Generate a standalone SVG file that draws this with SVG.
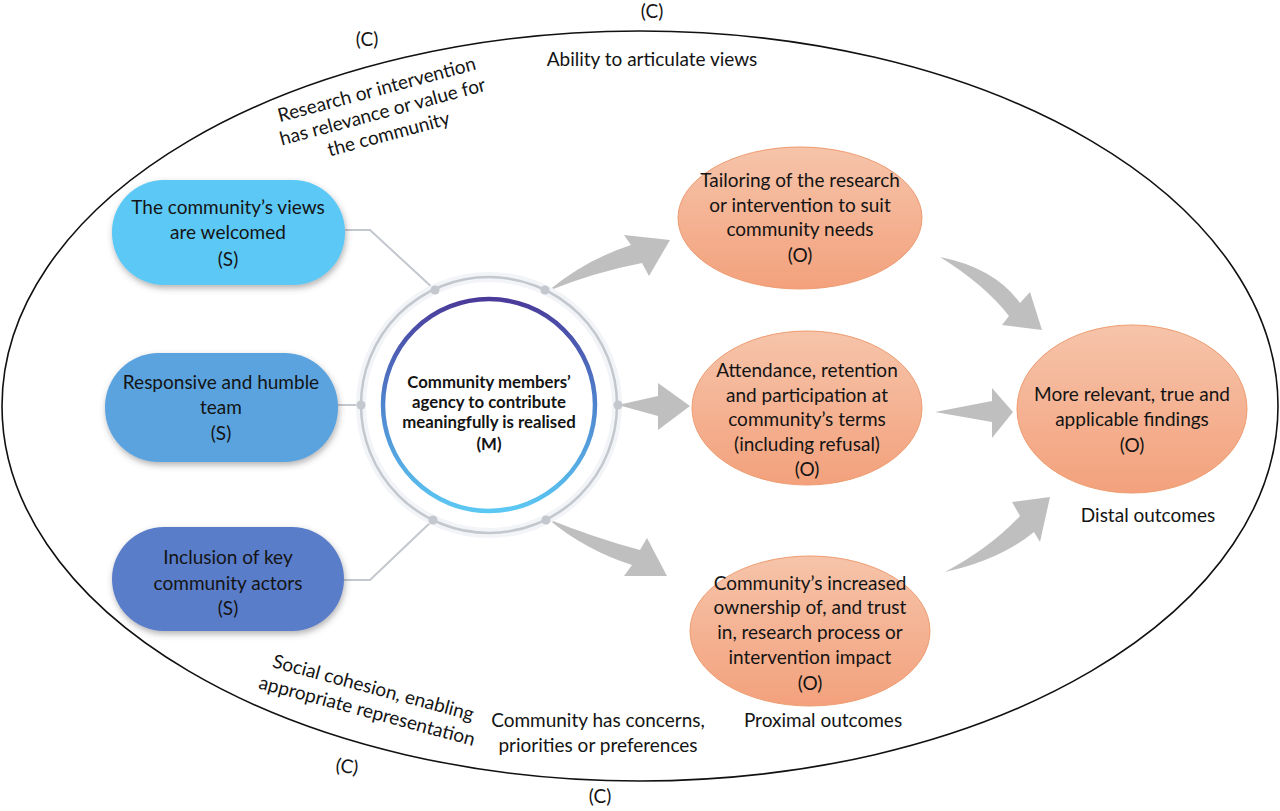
<svg xmlns="http://www.w3.org/2000/svg" width="1280" height="811" viewBox="0 0 1280 811">
<defs>
<style>
text{font-family:Lato,"Liberation Sans",sans-serif;font-size:19px;fill:#141414;text-anchor:middle}
.b{font-weight:bold;font-size:16.8px}
.pill{filter:url(#sh)}
.oe{fill:url(#og);stroke:#EE9C70;stroke-width:1}
.con{fill:none;stroke:#C3C7CE;stroke-width:2}
.dot{fill:#C3C7CE}
.arr{fill:#BFBFBF}
</style>
<filter id="sh" x="-20%" y="-20%" width="140%" height="150%">
<feDropShadow dx="1" dy="3" stdDeviation="3" flood-color="#555" flood-opacity="0.45"/>
</filter>
<linearGradient id="og" x1="0" y1="0" x2="0" y2="1">
<stop offset="0" stop-color="#F6C4AA"/>
<stop offset="1" stop-color="#F3A17C"/>
</linearGradient>
<linearGradient id="rg" x1="0" y1="0" x2="0" y2="1">
<stop offset="0" stop-color="#4A3A9A"/>
<stop offset="0.5" stop-color="#4F84CE"/>
<stop offset="1" stop-color="#5BC8F3"/>
</linearGradient>
</defs>
<rect width="1280" height="811" fill="#fff"/>
<ellipse id="context" cx="640" cy="406" rx="638" ry="375" fill="none" stroke="#111" stroke-width="1.6"/>

<g id="connectors">
<path class="con" d="M345,230 L370,230 L435,290"/>
<path class="con" d="M338,405 L361,405"/>
<path class="con" d="M344,580 L370,580 L433,520"/>
<path class="arr" d="M548,291 Q585,260 631,245 L624,235 L670,240 L649,276 L642,263 Q595,272 548,291 Z"/>
<path class="arr" d="M618,405 L658,396 L658,383 L690,406 L658,430 L658,416 Z"/>
<path class="arr" d="M548,519 Q585,550 632,565 L624,576 L667,576 L647,538 L640,550 Q595,538 548,519 Z"/>
<path class="arr" d="M940,257 Q995,268 1020,303 L1030,292 L1042,330 L1002,325 L1009,316 Q985,285 940,257 Z"/>
<path class="arr" d="M935,412 L992,401 L992,388 L1013,412 L992,438 L992,422 Z"/>
<path class="arr" d="M945,572 Q990,548 1020,516 L1012,502 L1050,497 L1040,542 L1034,532 Q1000,560 945,572 Z"/>
</g>

<g id="mechanism">
<circle cx="489" cy="405" r="128" fill="none" stroke="#F2F4F7" stroke-width="10"/>
<circle cx="489" cy="405" r="128" fill="none" stroke="#C3C7CE" stroke-width="2.5"/>
<circle cx="489" cy="405" r="106" fill="#fff" stroke="url(#rg)" stroke-width="4.5"/>
<circle class="dot" cx="435" cy="290" r="4.5"/>
<circle class="dot" cx="545" cy="290" r="4.5"/>
<circle class="dot" cx="361" cy="405" r="4.5"/>
<circle class="dot" cx="618" cy="405" r="4.5"/>
<circle class="dot" cx="433" cy="520" r="4.5"/>
<circle class="dot" cx="546" cy="520" r="4.5"/>
<text class="b" x="489" y="388">Community members’</text>
<text class="b" x="489" y="408">agency to contribute</text>
<text class="b" x="489" y="428">meaningfully is realised</text>
<text class="b" x="489" y="450">(M)</text>
</g>

<g id="s1">
<rect class="pill" x="112" y="180" width="233" height="105" rx="52" fill="#5BC8F5"/>
<text x="228" y="214">The community’s views</text>
<text x="228" y="239">are welcomed</text>
<text x="228" y="266">(S)</text>
</g>
<g id="s2">
<rect class="pill" x="105" y="353" width="233" height="109" rx="54" fill="#5AA3DF"/>
<text x="221" y="389">Responsive and humble</text>
<text x="221" y="414">team</text>
<text x="221" y="440">(S)</text>
</g>
<g id="s3">
<rect class="pill" x="112" y="527" width="232" height="104" rx="52" fill="#5A7DCA"/>
<text x="228" y="564">Inclusion of key</text>
<text x="228" y="590">community actors</text>
<text x="228" y="615">(S)</text>
</g>

<g id="o1">
<ellipse class="oe" cx="800" cy="218" rx="122" ry="71"/>
<text x="800" y="187">Tailoring of the research</text>
<text x="800" y="212">or intervention to suit</text>
<text x="800" y="236">community needs</text>
<text x="800" y="262">(O)</text>
</g>
<g id="o2">
<ellipse class="oe" cx="807" cy="408" rx="115" ry="77"/>
<text x="807" y="377">Attendance, retention</text>
<text x="807" y="402">and participation at</text>
<text x="807" y="426">community’s terms</text>
<text x="807" y="451">(including refusal)</text>
<text x="807" y="476">(O)</text>
</g>
<g id="o3">
<ellipse class="oe" cx="810" cy="631" rx="120" ry="75"/>
<text x="810" y="590">Community’s increased</text>
<text x="810" y="614">ownership of, and trust</text>
<text x="810" y="639">in, research process or</text>
<text x="810" y="664">intervention impact</text>
<text x="810" y="690">(O)</text>
</g>
<g id="o4">
<ellipse class="oe" cx="1132" cy="409" rx="115" ry="84"/>
<text x="1132" y="401">More relevant, true and</text>
<text x="1132" y="426">applicable findings</text>
<text x="1132" y="452">(O)</text>
</g>

<g id="labels">
<text x="652" y="18">(C)</text>
<text x="367" y="46">(C)</text>
<text x="652" y="66">Ability to articulate views</text>
<g transform="rotate(-15 376 114)">
<text x="383" y="97">Research or intervention</text>
<text x="383" y="120">has relevance or value for</text>
<text x="383" y="143">the community</text>
</g>
<g transform="rotate(15 369 688)">
<text x="373" y="693">Social cohesion, enabling</text>
<text x="373" y="717">appropriate representation</text>
</g>
<text x="598" y="727">Community has concerns,</text>
<text x="598" y="752">priorities or preferences</text>
<text x="823" y="727">Proximal outcomes</text>
<text x="1148" y="522">Distal outcomes</text>
<text x="347" y="773" transform="rotate(8 347 767)">(C)</text>
<text x="600" y="803">(C)</text>
</g>
</svg>
